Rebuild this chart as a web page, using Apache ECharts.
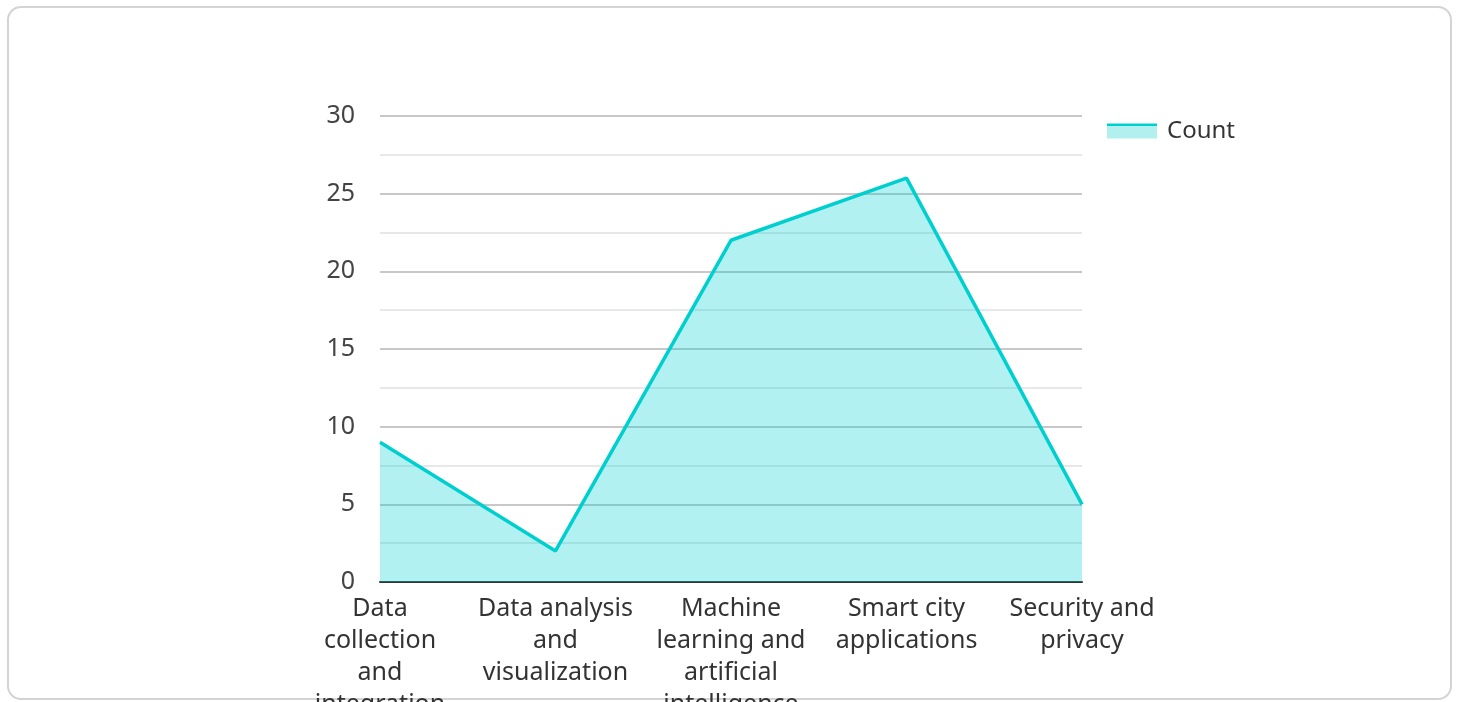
<!DOCTYPE html>
<html>
<head>
<meta charset="utf-8">
<script src="https://cdn.jsdelivr.net/npm/echarts@6/dist/echarts.min.js"></script>
<style>
	html, body { margin: 0; padding: 0; background: #fff; }
	.card {
		position: absolute; left: 7px; top: 6px; width: 1441px; height: 690px;
		border: 2px solid #d4d4d4; border-radius: 14px; background: #fff;
	}
	#chart { position: absolute; left: 0; top: 0; width: 1458px; height: 702px; }
</style>
</head>
<body>
<div class="card"></div>
<div id="chart"></div>
<script>
const categories = [
	'Data collection and integration',
	'Data analysis and visualization',
	'Machine learning and artificial intelligence',
	'Smart city applications',
	'Security and privacy'
];
const counts = [9, 2, 22, 26, 5];
const seriesName = 'Count';

const lineColor = '#00cfd0';
const fontFamily = '"Noto Sans", "Open Sans", sans-serif';
const labelSize = 25;

// wrap words greedily so no line keeps a trailing space
const measureCtx = document.createElement('canvas').getContext('2d');
measureCtx.font = labelSize + 'px ' + fontFamily;
function wrapLabel(text, maxWidth) {
	const words = text.split(' ');
	const lines = [];
	let cur = '';
	words.forEach(w => {
		const test = cur ? cur + ' ' + w : w;
		if (cur && measureCtx.measureText(test).width > maxWidth) {
			lines.push(cur);
			cur = w;
		} else {
			cur = test;
		}
	});
	if (cur) lines.push(cur);
	return lines.join('\n');
}

const chart = echarts.init(document.getElementById('chart'), null, { width: 1458, height: 702 });
chart.setOption({
	animation: false,
	textStyle: { fontFamily: fontFamily },
	grid: { left: 380, right: 376, top: 116, bottom: 120, containLabel: false, outerBoundsMode: 'none' },
	legend: {
		data: [seriesName],
		left: 1107,
		top: 119,
		padding: 0,
		itemWidth: 50,
		itemHeight: 15,
		icon: 'rect',
		itemStyle: {
			color: new echarts.graphic.LinearGradient(0, 0, 0, 1, [
				{ offset: 0, color: lineColor },
				{ offset: 0.2, color: lineColor },
				{ offset: 0.2, color: '#b2efef' },
				{ offset: 1, color: '#b2efef' }
			])
		},
		textStyle: { fontSize: 24, color: '#333', fontFamily: fontFamily, padding: [-10, 0, 0, 5] }
	},
	xAxis: {
		type: 'category',
		data: categories,
		boundaryGap: false,
		axisLine: { lineStyle: { color: '#333', width: 2 } },
		axisTick: { show: false },
		axisLabel: {
			interval: 0,
			fontSize: labelSize,
			color: '#333',
			lineHeight: 32,
			margin: 11,
			formatter: v => wrapLabel(v, 160)
		},
		splitLine: { show: false }
	},
	yAxis: {
		type: 'value',
		min: 0,
		max: 30,
		interval: 5,
		axisLine: { show: false },
		axisTick: { show: false },
		axisLabel: { fontSize: labelSize, color: '#444', margin: 25, padding: [6, 0, 0, 0] },
		splitLine: { lineStyle: { color: '#c8c8c8', width: 2 } },
		minorTick: { show: false, splitNumber: 2 },
		minorSplitLine: { show: true, lineStyle: { color: '#e8e8e8', width: 2 } }
	},
	series: [{
		name: seriesName,
		type: 'line',
		data: counts,
		showSymbol: false,
		symbol: 'none',
		lineStyle: { color: lineColor, width: 3.5 },
		itemStyle: { color: lineColor },
		areaStyle: { color: lineColor, opacity: 0.3 }
	}]
});
</script>
</body>
</html>
